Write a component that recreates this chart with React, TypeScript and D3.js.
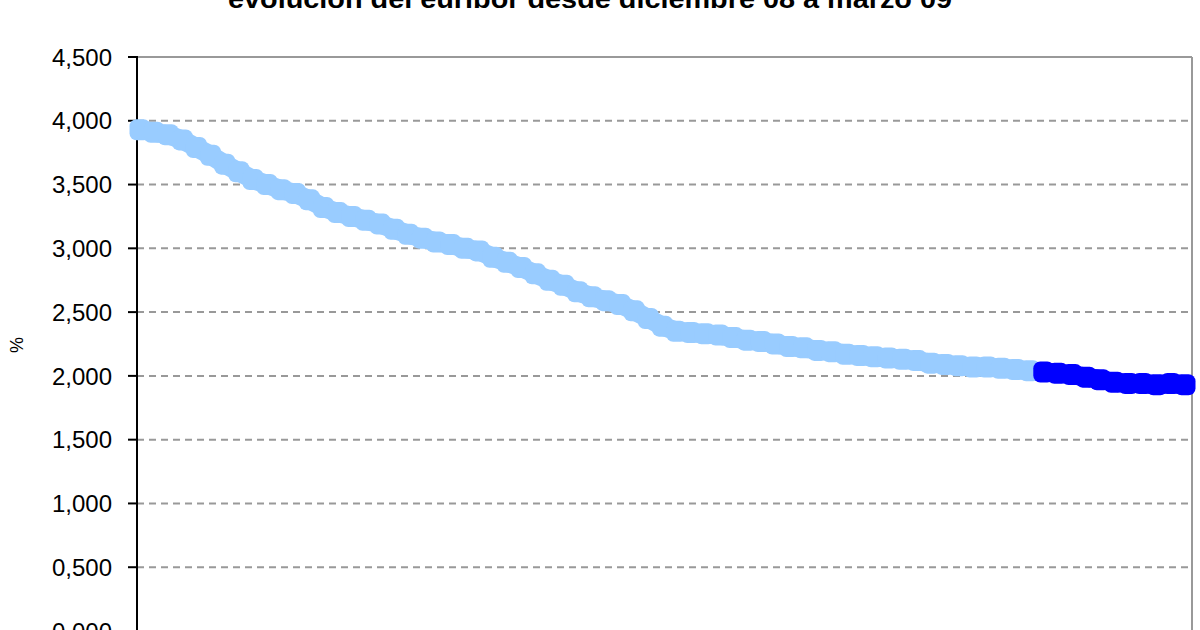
import React from "react";
import * as d3 from "d3";

const title = "evolución del euribor desde diciembre 08 a marzo 09";
const yTicks = [0, 0.5, 1, 1.5, 2, 2.5, 3, 3.5, 4, 4.5];
const yTickLabels = ["0,000", "0,500", "1,000", "1,500", "2,000", "2,500", "3,000", "3,500", "4,000", "4,500"];

// December 08 – February 09 (light series)
const seriesEarly = [
  3.93, 3.91, 3.89, 3.85, 3.79, 3.73, 3.66, 3.6, 3.54, 3.5,
  3.46, 3.43, 3.38, 3.32, 3.28, 3.25, 3.22, 3.19, 3.15, 3.11,
  3.08, 3.05, 3.03, 3.0, 2.98, 2.93, 2.89, 2.85, 2.8, 2.75,
  2.71, 2.66, 2.62, 2.59, 2.56, 2.51, 2.45, 2.39, 2.35, 2.34,
  2.33, 2.32, 2.3, 2.28, 2.27, 2.25, 2.23, 2.22, 2.2, 2.19,
  2.17, 2.16, 2.15, 2.14, 2.13, 2.12, 2.1, 2.09, 2.08, 2.07,
  2.07, 2.06, 2.05, 2.04,
];
// March 09 (dark series)
const seriesMarch = [2.03, 2.02, 2.01, 1.99, 1.97, 1.95, 1.94, 1.94, 1.93, 1.94, 1.93];

export default function App() {
  const W = 1200, H = 630;
  const left = 137, right = 1192, top = 57;
  const total = seriesEarly.length + seriesMarch.length;
  const x = d3.scaleLinear().domain([0, total - 1]).range([140, 1185]);
  const y = d3.scaleLinear().domain([0, 4.5]).range([631, top]);

  const early = seriesEarly.map((v, i) => ({ i, v }));
  const march = seriesMarch.map((v, k) => ({ i: seriesEarly.length + k, v }));
  const line = d3.line<{ i: number; v: number }>().x((d) => x(d.i)).y((d) => y(d.v));
  const ms = 21;

  const series = [
    { data: early, color: "#99CCFF", key: "e" },
    { data: march, color: "#0000FF", key: "m" },
  ];

  return (
    <div style={{ position: "fixed", left: 0, top: 0, width: W, height: H, background: "#fff" }}>
      <svg width={W} height={H} style={{ display: "block" }} fontFamily="Arial, 'Liberation Sans', sans-serif">
        <rect width={W} height={H} fill="#fff" />
        <text x={590} y={8} textAnchor="middle" fontWeight="bold" fontSize={25} textLength={724} lengthAdjust="spacingAndGlyphs" fill="#000">
          {title}
        </text>
        {yTicks.map((t, k) =>
          k === yTicks.length - 1 ? null : (
            <line key={k} x1={left} x2={right} y1={y(t)} y2={y(t)} stroke="#999" strokeWidth={2} strokeDasharray="7,5" />
          )
        )}
        <line x1={left} x2={right} y1={top} y2={top} stroke="#999" strokeWidth={2} />
        <line x1={right} x2={right} y1={top} y2={H} stroke="#999" strokeWidth={2} />
        <line x1={left} x2={left} y1={top - 1} y2={H} stroke="#000" strokeWidth={2} />
        {yTicks.map((t, k) => (
          <g key={k}>
            <line x1={128} x2={left} y1={y(t)} y2={y(t)} stroke="#000" strokeWidth={2} />
            <text x={112} y={y(t)} dy="0.36em" textAnchor="end" fontSize={24} fill="#000">
              {yTickLabels[k]}
            </text>
          </g>
        ))}
        <text transform={`translate(23,${345}) rotate(-90)`} textAnchor="middle" fontSize={18} fill="#000">%</text>
        {series.map((s) => (
          <g key={s.key}>
            <path d={line(s.data) ?? ""} fill="none" stroke={s.color} strokeWidth={19} strokeLinejoin="round" strokeLinecap="round" />
            {s.data.map((d) => (
              <rect key={s.key + d.i} x={x(d.i) - ms / 2} y={y(d.v) - ms / 2} width={ms} height={ms} rx={7} fill={s.color} />
            ))}
          </g>
        ))}
      </svg>
    </div>
  );
}
